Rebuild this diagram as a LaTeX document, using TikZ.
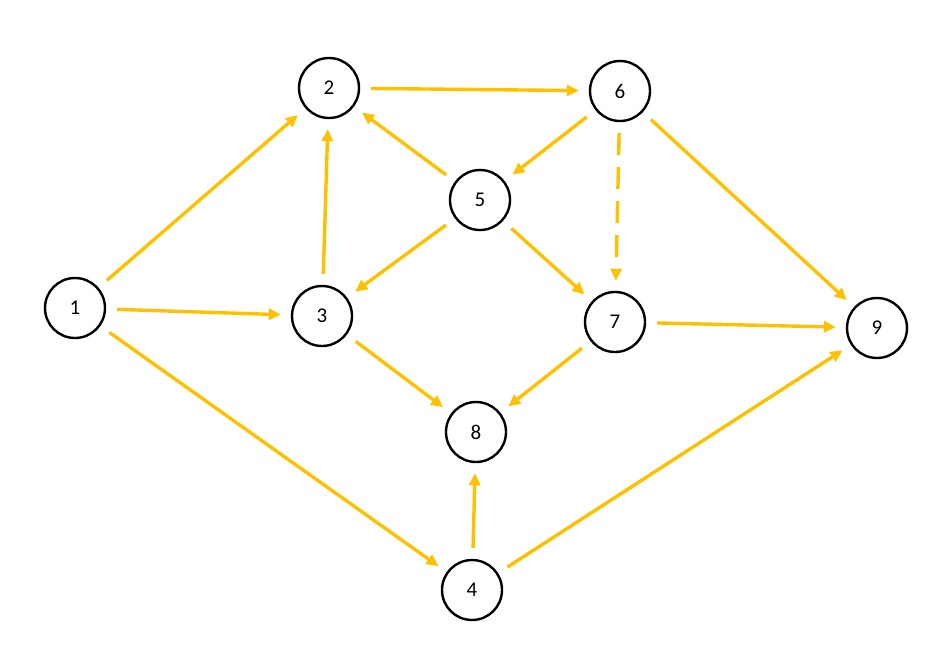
\documentclass[tikz,border=0pt]{standalone}
\usepackage{fontspec}
\setmainfont{Carlito}
\usetikzlibrary{arrows.meta}
\definecolor{gold}{HTML}{FFC000}
\begin{document}
\begin{tikzpicture}[x=1pt,y=-1pt,
  vert/.style={circle,draw=black,line width=2.4pt,minimum size=60pt,inner sep=0pt,font=\fontsize{21}{24}\selectfont},
  edge/.style={draw=gold,line width=3.4pt,-{Triangle[length=12pt,width=11pt]},shorten <=11pt,shorten >=10pt}]
\useasboundingbox (0,0) rectangle (952,653);
\node[vert] (n1) at (75,308) {1};
\node[vert] (n2) at (329,88) {2};
\node[vert] (n3) at (322,316) {3};
\node[vert] (n4) at (472,590) {4};
\node[vert] (n5) at (480,200) {5};
\node[vert] (n6) at (620,91) {6};
\node[vert] (n7) at (615,322) {7};
\node[vert] (n8) at (476,432) {8};
\node[vert] (n9) at (877,328) {9};
\draw[edge] (n1) -- (n2);
\draw[edge] (n1) -- (n3);
\draw[edge] (n1) -- (n4);
\draw[edge] (n2) -- (n6);
\draw[edge] (n3) -- (n2);
\draw[edge] (n3) -- (n8);
\draw[edge] (n4) -- (n8);
\draw[edge] (n4) -- (n9);
\draw[edge] (n5) -- (n2);
\draw[edge] (n5) -- (n3);
\draw[edge] (n5) -- (n7);
\draw[edge] (n6) -- (n5);
\draw[edge,dash pattern=on 22pt off 12pt] (n6) -- (n7);
\draw[edge] (n6) -- (n9);
\draw[edge] (n7) -- (n9);
\draw[edge] (n7) -- (n8);
\end{tikzpicture}
\end{document}
